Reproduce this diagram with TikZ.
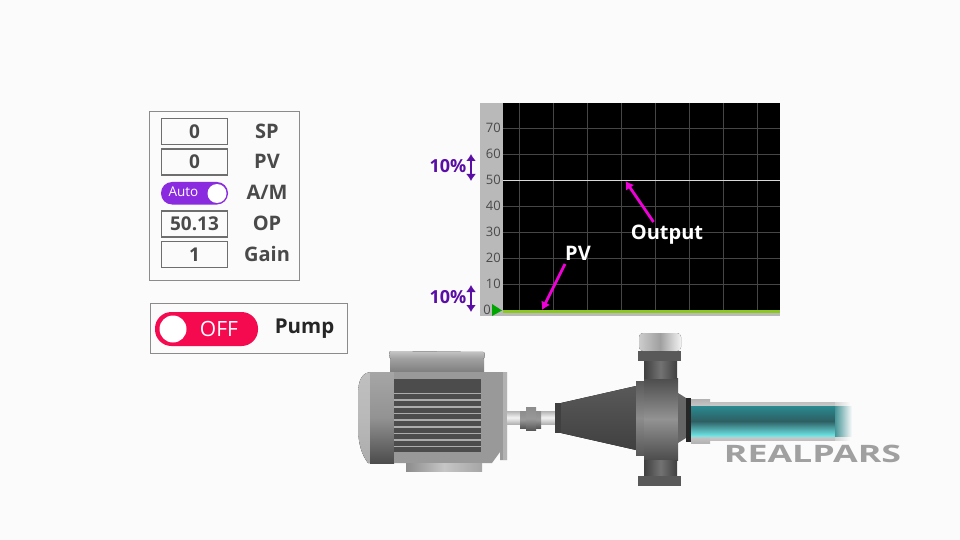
\documentclass[tikz,border=0pt]{standalone}
\usepackage{fontspec}
\setmainfont{Open Sans}
\usepackage{xcolor}
\usepackage{tikz}
\usetikzlibrary{arrows.meta}
\definecolor{pagebg}{HTML}{FBFBFB}
\definecolor{framegray}{HTML}{6E6E6E}
\definecolor{textgray}{HTML}{4A4A4A}
\definecolor{togglepurple}{HTML}{8A2BE0}
\definecolor{togglered}{HTML}{F50A50}
\definecolor{notepurple}{HTML}{5B0EA6}
\definecolor{arrowpink}{HTML}{F000D8}
\definecolor{tracegreen}{HTML}{8CC81E}
\definecolor{logogray}{HTML}{A0A0A0}
\definecolor{fluidtop}{HTML}{2A8A90}
\definecolor{fluidmid}{HTML}{2D5F63}
\definecolor{fluidlow}{HTML}{70E8E8}
\tikzset{
  fieldbox/.style={draw=framegray,line width=1.7pt,minimum width=66pt,minimum height=26pt,inner sep=0pt,
    text=textgray,font=\fontsize{19}{21}\selectfont\bfseries},
  fieldlabel/.style={text=textgray,inner sep=0pt,font=\fontsize{20}{22}\selectfont\bfseries},
  axislabel/.style={text=textgray,inner sep=0pt,font=\fontsize{13}{15}\selectfont},
  chartnote/.style={text=white,inner sep=0pt,font=\fontsize{20}{22}\selectfont\bfseries},
  percentnote/.style={text=notepurple,inner sep=0pt,font=\fontsize{18}{20}\selectfont\bfseries},
  pinkarrow/.style={draw=arrowpink,line width=2.8pt,-{Latex[length=8pt,width=10pt]}},
  spanarrow/.style={draw=notepurple,line width=2pt,{Latex[length=7pt,width=10pt]}-{Latex[length=7pt,width=10pt]}},
  gridline/.style={draw=gray!55!black,line width=1.3pt},
}
\newcommand{\drawField}[4]{% name, center y, value, label
  \node[fieldbox] (#1box) at (194.5,#2) {#3};
  \node[fieldlabel] (#1label) at (267,#2-.5) {#4};
}
\newcommand{\drawTick}[2]{% value, y
  \draw[gridline] (503,#2) -- (780,#2);
  \node[axislabel,anchor=east] (tick#1) at (501,#2-.5) {#1};
}
\begin{document}
\begin{tikzpicture}[x=1pt,y=-1pt,>=latex]
\fill[pagebg] (0,0) rectangle (960,540);
\useasboundingbox (0,0) rectangle (960,540);

% Faceplate
\draw[framegray!80,line width=1pt] (149,112) rectangle (299,280);
\drawField{sp}{131.5}{0}{SP}
\drawField{pv}{162}{0}{PV}
\drawField{op}{224}{50.13}{OP}
\drawField{gain}{254.5}{1}{Gain}

% Auto toggle
\node[fieldlabel] (amlabel) at (267,192.5) {A/M};
\fill[togglepurple,rounded corners=11pt] (161,182) rectangle (228,204.5);
\node[inner sep=0pt,text=white,font=\fontsize{13.5}{14}\selectfont] (autotext) at (183.5,192) {Auto};
\fill[white] (217,193.5) circle (9.5);

% Pump switch
\draw[framegray!80,line width=1pt] (150,303) rectangle (347,353);
\fill[togglered,rounded corners=16.5pt] (155,312) rectangle (258,346);
\fill[white] (173,329) circle (13.5);
\node[inner sep=0pt,text=white,font=\fontsize{21}{22}\selectfont] (offtext) at (219,329) {OFF};
\node[inner sep=0pt,text=black!85,font=\fontsize{20.5}{22}\selectfont\bfseries] (pumplabel) at (304.5,329) {Pump};

% Chart
\fill[gray!55] (480,103) rectangle (780,316);
\fill[black] (503,103) rectangle (780,311);
\foreach \gx in {519.7,553.7,587.7,621.7,655.7,689.7,723.7,757.7}
  \draw[gridline] (\gx,103) -- (\gx,311);
\drawTick{70}{128.7}
\drawTick{60}{154.7}
\drawTick{50}{180.7}
\drawTick{40}{206.7}
\drawTick{30}{232.7}
\drawTick{20}{258.7}
\drawTick{10}{284.7}
\node[axislabel,anchor=east] (tick0) at (491,309.5) {0};

% Traces
\draw[gray!30,line width=1.4pt] (503,180.7) -- (780,180.7);
\draw[tracegreen,line width=2.6pt] (503,311.5) -- (780,311.5);
\fill[green!65!black] (492,304) -- (502,310.5) -- (492,316) -- cycle;

% Chart notes
\node[chartnote] (outputtext) at (667,235) {Output};
\node[chartnote] (pvtext) at (578,253) {PV};
\coordinate (outputtail) at (653.5,222);
\coordinate (outputtip) at (625.5,181);
\coordinate (pvtail) at (565,264);
\coordinate (pvtip) at (542,310);
\draw[pinkarrow] (outputtail) -- (outputtip);
\draw[pinkarrow] (pvtail) -- (pvtip);

% Ten percent marks
\node[percentnote] (upperpercent) at (448,166.5) {10\%};
\node[percentnote] (lowerpercent) at (448,297) {10\%};
\coordinate (uppertop) at (471,154);
\coordinate (upperbottom) at (471,181);
\coordinate (lowertop) at (471,285);
\coordinate (lowerbottom) at (471,312);
\draw[spanarrow] (uppertop) -- (upperbottom);
\draw[spanarrow] (lowertop) -- (lowerbottom);

% Motor
\fill[top color=gray!45,bottom color=gray!80,rounded corners=2pt] (389,351) -- (485,352) -- (484,360) -- (390,360) -- cycle;
\fill[top color=gray!75,bottom color=gray!85!black] (390,359) rectangle (484,379);
\fill[top color=gray!50,bottom color=gray!65,middle color=gray!55] (358,395) .. controls (358,380) and (362,372) .. (372,372) -- (372,463) -- (368,463) .. controls (362,455) and (358,445) .. (358,425) -- cycle;
\fill[top color=gray!70,bottom color=gray!60!black,middle color=gray!85] (370,372) -- (394,372) -- (394,463) -- (370,463) -- cycle;
\fill[gray!80] (394,372) -- (507,372) -- (507,460) -- (500,460) -- (500,452) -- (492,463) -- (394,463) -- cycle;
\fill[gray!60] (503,372) rectangle (507,460);
\fill[left color=gray!90,right color=gray!70,middle color=gray!45] (406,463) rectangle (482,471);
\fill[black!70] (394,379) rectangle (481,452);
\foreach \fy in {393.5,400,407,413.5,420,427,433.5,440,446.5}
  \draw[gray!65,line width=1.2pt] (394,\fy) -- (481,\fy);

% Shaft and coupling
\fill[top color=gray!60,bottom color=gray!60,middle color=gray!10] (507,411) rectangle (555,424);
\fill[top color=gray!90,bottom color=black!65,middle color=gray!80] (520,411) rectangle (541,428);
\fill[top color=gray!90,bottom color=black!65,middle color=gray!80] (526,407) rectangle (536,430);

% Pump
\fill[black!75] (555,403) rectangle (561,433);
\fill[top color=black!65,bottom color=black!75,middle color=black!70] (561,403) -- (636,386) -- (636,450) -- (561,433) -- cycle;
\fill[top color=black!65,bottom color=black!65,middle color=gray!90] (636,381) rectangle (644,455);
\fill[top color=black!70,bottom color=black!70,middle color=gray!85] (644,378) rectangle (678,460);
\fill[left color=black!75,right color=black!75,middle color=black!55] (644,360) rectangle (677,378);
\fill[left color=black!75,right color=black!75,middle color=black!55] (644,460) rectangle (677,477);
\fill[black!65] (638,351) rectangle (681,361);
\fill[black!65] (638,476) rectangle (681,486);
\fill[left color=gray!40,right color=gray!10,middle color=gray!75,rounded corners=4pt] (639,351) -- (639,333) -- (681,333) -- (681,351) -- cycle;
\fill[black!60] (678,393) -- (686,398) -- (686,438) -- (678,443) -- cycle;
\fill[black!85] (686,398) rectangle (691,442);

% Discharge pipe
\fill[top color=gray!60,bottom color=gray!60,middle color=gray!10] (691,399) rectangle (710,443);
\fill[top color=gray!50,bottom color=gray!50,middle color=gray!10] (710,402) rectangle (835,440);
\fill[top color=fluidtop,bottom color=fluidlow,middle color=fluidmid] (691,406) rectangle (835,436);
\fill[left color=gray!35,right color=pagebg] (835,402) rectangle (850,440);
\fill[left color=fluidmid!60!fluidlow,right color=pagebg] (835,406) rectangle (852,436);

% Logo
\node[inner sep=0pt,text=logogray,font=\fontsize{24}{26}\selectfont\bfseries] (logotext) at (812.5,453.5) {\scalebox{1.49}[1]{REALPARS}};
\end{tikzpicture}
\end{document}
